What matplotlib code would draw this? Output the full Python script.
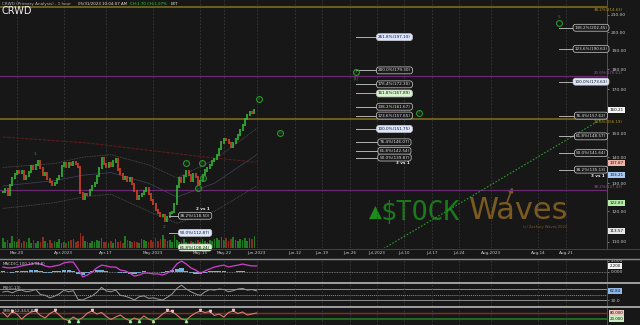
import matplotlib
matplotlib.use("Agg")
import matplotlib.pyplot as plt
import matplotlib.transforms as mtransforms
from matplotlib.lines import Line2D

# ---------------- data ----------------
# half-day closes (from day -3 to day 50.5, day 0 = Mar-20, trading-day index)
closes = [126.8, 128.0, 125.8, 129.5, 131.8, 133.5, 134.6, 133.8, 134.5, 131.6,
          132.8, 134.2, 136.4, 135.5, 136.9, 138.6, 135.6, 133.0, 133.8, 131.6,
          130.4, 129.2, 130.2, 131.5, 132.6, 136.5, 137.6, 136.2, 137.7, 136.8,
          138.2, 137.4, 136.2, 126.5, 124.3, 126.2, 125.6, 127.4, 129.0, 130.2,
          132.6, 135.8, 139.6, 137.2, 136.0, 137.8, 136.4, 138.3, 139.4, 135.2,
          133.4, 131.6, 132.4, 130.8, 131.8, 129.6, 127.0, 124.3, 125.4, 126.2,
          127.2, 128.4, 126.1, 124.0, 122.5, 120.6, 119.4, 118.6, 118.9, 116.8,
          118.2, 119.3, 119.9, 122.6, 128.8, 131.8, 130.4, 132.6, 134.6, 133.2,
          131.0, 133.4, 132.4, 129.6, 130.8, 133.2, 134.8, 135.9, 137.1, 138.4,
          139.2, 140.8, 143.5, 146.0, 147.6, 147.2, 145.8, 144.2, 145.9, 147.6,
          149.0, 151.2, 153.6, 156.2, 158.0, 159.4, 159.0, 160.2]
volume = [2.1, 1.4, 1.8, 1.2, 2.6, 1.5, 1.3, 1.9, 1.1, 1.6,
          1.4, 2.2, 1.2, 1.7, 1.0, 1.5, 1.3, 2.4, 1.6, 1.2,
          1.8, 1.1, 1.5, 1.3, 1.9, 1.2, 1.4, 1.0, 1.6, 1.8,
          2.0, 1.3, 1.5, 3.4, 2.7, 1.6, 1.4, 1.2, 1.5, 1.3,
          1.8, 1.6, 2.2, 1.4, 1.3, 1.1, 1.6, 1.2, 1.9, 1.3,
          1.5, 1.2, 2.6, 1.8, 1.5, 1.3, 1.6, 1.4, 1.2, 1.9,
          1.7, 1.5, 1.4, 1.8, 1.3, 2.3, 1.6, 1.9, 2.8, 2.0,
          1.6, 1.8, 1.4, 2.9, 1.7, 1.3, 1.5, 1.9, 1.4, 1.2,
          1.6, 1.3, 1.5, 1.7, 1.4, 2.0, 1.6, 1.3, 1.8, 1.5,
          1.9, 2.2, 1.7, 2.5, 1.8, 2.1, 1.6, 1.9, 2.4, 1.7,
          1.5, 2.0, 1.8, 2.3, 1.6, 2.1, 1.9, 2.6]
bar_first_day = -3.0
bar_step_days = 0.5

# daily indicator values (day -3 .. day 51)
macd = [1.8, 1.5, 1.5, 1.8, 2.2, 2.5, 2.9, 3.3, 2.9, 2.2,
        1.8, 2.2, 2.5, 3.3, 3.6, 3.6, 1.1, -1.8, -1.1, 0.0,
        1.5, 2.5, 2.2, 1.8, 1.8, 0.7, 0.4, -0.4, -1.5, -1.1,
        -0.4, -0.4, -0.7, -0.7, -1.1, -0.4, 0.7, 2.9, 4.0, 2.9,
        1.5, 0.7, -0.4, 0.4, 1.1, 1.8, 2.2, 2.5, 1.8, 2.2,
        2.5, 2.9, 2.5, 2.2, 2.2]
macd_hist = [0.3, 0.1, -0.2, 0.2, 0.4, 0.5, 0.6, 0.7, 0.3, -0.2,
             -0.3, 0.2, 0.4, 0.6, 0.7, 0.5, -0.8, -1.2, -0.4, 0.3,
             0.6, 0.8, 0.3, -0.1, 0.0, -0.4, -0.5, -0.6, -0.7, -0.2,
             0.2, 0.1, -0.1, -0.1, -0.3, 0.2, 0.6, 1.2, 1.3, 0.4,
             -0.4, -0.6, -0.8, -0.2, 0.2, 0.4, 0.4, 0.4, -0.1, 0.1,
             0.3, 0.4, 0.1, 0.0, 0.0]
rsi = [59, 62, 56, 64, 66, 60, 63, 68, 50, 47,
       38, 44, 52, 66, 60, 64, 32, 30, 38, 45,
       58, 76, 63, 60, 66, 47, 44, 38, 30, 42,
       45, 36, 38, 33, 30, 40, 52, 72, 84, 70,
       60, 52, 47, 60, 68, 66, 70, 68, 60, 64,
       70, 72, 66, 68, 62.84]
stoch = [85, 40, 95, 70, 20, 60, 90, 100, 55, 30,
         75, 100, 60, 20, 5, 40, 10, 35, 80, 100,
         70, 85, 45, 15, 40, 60, 25, 5, 30, 10,
         50, 20, 5, 30, 70, 100, 95, 60, 20, 10,
         50, 80, 100, 85, 95, 55, 70, 40, 85, 100,
         75, 90, 60, 70, 80]
ind_first_day = -3

ma_days = [-3, 15, 28, 32, 40, 51]
ma_long = [148.3, 145.8, 142.8, 141.9, 140.1, 138.0]
band_days = [-3, 8, 14, 20, 28, 34, 42, 51]
band_upper = [136.0, 137.5, 140.0, 141.0, 137.0, 132.0, 139.0, 152.0]
band_mid = [129.0, 131.0, 133.0, 134.0, 130.0, 125.0, 130.0, 141.0]
band_lower = [121.0, 123.0, 125.0, 126.0, 120.0, 116.0, 120.0, 129.0]

tick_days = [0, 10, 19, 29, 39, 44, 51, 59.1, 64.9, 70.8, 76.6, 82.4, 88.2,
             94.0, 100.8, 110.9, 116.8]
tick_labels = ['Mar-20', 'Apr-2023', 'Apr-17', 'May-2023', 'May-15', 'May-22',
               'Jun-2023', 'Jun-12', 'Jun-19', 'Jun-26', 'Jul-2023', 'Jul-10',
               'Jul-17', 'Jul-24', 'Aug-2023', 'Aug-14', 'Aug-21']
price_ticks = [110, 120, 130, 140, 150, 160, 170, 180, 190, 200, 210]

mid_fib_labels = ['261.8%', '200.0%', '176.4%', '161.8%', '138.2%', '123.6%',
                  '100.0%', '76.4%', '61.8%', '50.0%']
mid_fib_prices = [197.10, 179.30, 172.30, 167.89, 161.67, 157.65, 151.75,
                  146.07, 142.54, 139.87]
right_fib_labels = ['138.2%', '123.6%', '100.0%', '76.4%', '61.8%', '50.0%', '38.2%']
right_fib_prices = [202.45, 190.63, 173.63, 157.62, 148.57, 141.64, 135.13]
left_fib_labels = ['38.2%', '50.0%', '61.8%']
left_fib_prices = [118.50, 112.87, 108.24]

level_prices = [214.63, 176.61, 156.19, 127.43]
level_labels = ['38.2%(214.63)', '23.6%(176.61)', '23.6%(156.19)', '38.2%(127.43)']

tag_prices = [160.21, 137.87, 133.21, 122.83, 113.57]
tag_colors = ['#f4f4f4', '#f0b4aa', '#a9c9f2', '#b5eea6', '#e6e6e6']

wave_days = [72.1, 85.5, 115.3, 51.5, 56.0, 36.0, 39.4, 39.6, 38.5]
wave_prices = [178.5, 158.8, 205.4, 165.3, 150.0, 137.7, 137.7, 132.0, 128.3]
wave_texts = ['3', '4', '', 'iii', 'iv', 'i', 'iii', 'iv', 'ii']

trend_days = [76.8, 125.5]
trend_prices = [106.9, 157.5]

# ---------------- style ----------------
BG = '#171717'
GRID = '#3a3a3a'
TXT = '#c8c8c8'
GREEN = '#33c23a'
RED = '#e0452f'
WGREEN = '#2a9a2a'
GOLD = '#7c6a1f'
PURP = '#6a2a70'
W, H = 640, 325

fig = plt.figure(figsize=(6.4, 3.25), dpi=100, facecolor=BG)


def rect(top, bottom, right=607):
    return [0, 1 - bottom / H, right / W, (bottom - top) / H]


ax = fig.add_axes(rect(0, 248))
axv = ax.twinx()
ax_macd = fig.add_axes(rect(260, 282))
ax_rsi = fig.add_axes(rect(284, 306))
ax_st = fig.add_axes(rect(308, 325))

XMIN, XMAX = -3.6, 125.5
for a in (ax, ax_macd, ax_rsi, ax_st):
    a.set_facecolor(BG)
    a.set_xlim(XMIN, XMAX)
    for s in ('top', 'left', 'bottom'):
        a.spines[s].set_visible(False)
    a.spines['right'].set_color('#5a5a5a')
    a.spines['right'].set_linewidth(0.6)
    a.set_xticks(tick_days)
    a.grid(axis='x', color=GRID, lw=0.6, ls=(0, (2, 2)))
    a.yaxis.tick_right()
    a.yaxis.set_label_position('right')
    a.tick_params(axis='y', colors=TXT, labelsize=3.2, length=1.5, width=0.4, pad=1.5)
    a.tick_params(axis='x', length=0)

# volume axis behind the price axis
axv.set_ylim(0, max(volume) * 16)
axv.set_xlim(XMIN, XMAX)
axv.axis('off')
ax.set_zorder(axv.get_zorder() + 1)
ax.patch.set_visible(False)

# ---------------- main price panel ----------------
ax.set_yscale('log')
ax.set_ylim(108.1, 219.1)
ax.set_yticks(price_ticks)
ax.set_yticklabels(['' if p == 160 else f'{p:.2f}' for p in price_ticks])
ax.yaxis.set_minor_locator(matplotlib.ticker.NullLocator())
ax.set_xticklabels(tick_labels, color=TXT, fontsize=3.0)
ax.tick_params(axis='x', pad=2.5)

bar_x = [bar_first_day + i * bar_step_days for i in range(len(closes))]
for i, (x, c) in enumerate(zip(bar_x, closes)):
    o = closes[i - 1] if i > 0 else c
    col = GREEN if c >= o else RED
    lo, hi = min(o, c), max(o, c)
    ax.vlines(x, lo * 0.997, hi * 1.003, color=col, lw=1.1, zorder=4)
for i, (x, v) in enumerate(zip(bar_x, volume)):
    o = closes[i - 1] if i > 0 else closes[i]
    col = '#1f7a1f' if closes[i] >= o else '#8c2a1c'
    axv.bar(x, v, width=0.35, color=col, zorder=1)

# moving average / bands
ax.plot(ma_days, ma_long, color='#5a1c1c', lw=0.8, ls=(0, (3, 1)), zorder=2)
ax.plot(band_days, band_upper, color='#555555', lw=0.6, ls=(0, (1, 1)), zorder=2)
ax.plot(band_days, band_mid, color='#3c3c55', lw=0.6, zorder=2)
ax.plot(band_days, band_lower, color='#555555', lw=0.6, ls=(0, (1, 1)), zorder=2)

# level lines
level_cols = [GOLD, PURP, GOLD, PURP]
level_tcols = ['#b8962e', '#a050a8', '#b8962e', '#a050a8']
level_va = ['top', 'bottom', 'top', 'bottom']
for p, lab, c, tc, va in zip(level_prices, level_labels, level_cols, level_tcols, level_va):
    ax.axhline(p, color=c, lw=1.2 if c == GOLD else 0.9, zorder=3)
    ax.text(122.6, p * (0.998 if va == 'top' else 1.003), lab, color=tc, fontsize=2.8,
            ha='left', va=va, clip_on=False, zorder=6)

# trend line
ax.plot(trend_days, trend_prices, color='#2a9a2a', lw=0.8, ls=(0, (1.5, 1.5)), zorder=3)


def fib_set(labels, prices, x0, x1, xc, fills):
    for lab, p in zip(labels, prices):
        ax.plot([x0, x1], [p, p], color='#b0b0b0', lw=0.7, zorder=5)
        fc = fills.get(lab, '#1a1a1a')
        tc = '#101010' if lab in fills else '#e0e0e0'
        ax.text(xc, p, f'{lab}({p:.2f})', fontsize=3.0, color=tc, ha='center',
                va='center', zorder=7,
                bbox=dict(boxstyle='round,pad=0.35,rounding_size=0.6', fc=fc,
                          ec='#cfcfcf', lw=0.5))


fib_set(mid_fib_labels, mid_fib_prices, 72.1, 76.6, 80.3,
        {'261.8%': '#dde4ff', '161.8%': '#d6f5cc', '100.0%': '#dde8ff'})
fib_set(right_fib_labels, right_fib_prices, 115.3, 118.9, 122.1,
        {'100.0%': '#dde8ff'})
fib_set(left_fib_labels, left_fib_prices, 32.4, 34.6, 37.9,
        {'50.0%': '#dde8ff', '61.8%': '#d6f5cc'})

ax.text(82.0, 137.7, '3 vs 1', fontsize=3.0, color='#f0f0f0', ha='center',
        va='center', fontweight='bold', zorder=6)
ax.text(123.6, 132.7, '3 vs 1', fontsize=3.0, color='#f0f0f0', ha='center',
        va='center', fontweight='bold', zorder=6, clip_on=False)
ax.text(39.6, 120.8, '2 vs 1', fontsize=3.0, color='#f0f0f0', ha='center',
        va='center', fontweight='bold', zorder=6)

# wave labels
for d, p, t in zip(wave_days, wave_prices, wave_texts):
    ax.plot(d, p, marker='o', ms=4.2, mfc='none', mec=WGREEN, mew=0.8, zorder=7)
    if t:
        ax.text(d, p, t, fontsize=2.3, color=WGREEN, ha='center', va='center', zorder=7)
ax.text(72.1, 176.2, '[3]', fontsize=2.4, color=WGREEN, ha='center', va='top', zorder=7)
ax.text(115.3, 209.0, '5', fontsize=3.0, color=WGREEN, ha='center', va='center', zorder=7)
ax.text(3.8, 141.2, '1', fontsize=3.2, color=WGREEN, ha='center', va='center', zorder=7)
ax.text(31.3, 114.8, '2', fontsize=3.2, color=WGREEN, ha='center', va='center', zorder=7)

# watermark
ax.text(0.608, 0.142, '\u25b2', transform=ax.transAxes, fontsize=12, color='#1e8c1e',
        ha='left', va='center', zorder=1)
ax.text(0.627, 0.142, '$TOCK', transform=ax.transAxes, fontsize=19,
        family='DejaVu Sans Mono', color='#1a7a1a',
        ha='left', va='center', zorder=1)
ax.text(0.772, 0.115, 'Waves', transform=ax.transAxes, fontsize=22, color='#7b5a22',
        ha='left', va='baseline', zorder=1)
ax.annotate('', xy=(0.846, 0.255), xytext=(0.834, 0.175), xycoords='axes fraction',
            arrowprops=dict(arrowstyle='-|>', color='#7b5a22', lw=1.2,
                            mutation_scale=6), zorder=1)
ax.text(0.898, 0.085, '(c) Zachary Waves 2023', transform=ax.transAxes, fontsize=2.6,
        color='#7b5a22', ha='center', va='center', zorder=1)

# right price tags
ytrans = mtransforms.blended_transform_factory(ax.transAxes, ax.transData)
for p, c in zip(tag_prices, tag_colors):
    ax.text(1.004, p, f'{p:.2f}', transform=ytrans, fontsize=3.0, color='#101010',
            ha='left', va='center', clip_on=False, zorder=8,
            bbox=dict(boxstyle='square,pad=0.25', fc=c, ec='none'))

# ---------------- MACD ----------------
ind_x = [ind_first_day + i for i in range(len(macd))]
ax_macd.set_ylim(-3.64, 4.36)
ax_macd.bar(ind_x, macd_hist, width=0.9, color='#6fb2e0', zorder=2)
ax_macd.plot(ind_x, macd, color='#d040d0', lw=0.9, zorder=3)
ax_macd.axhline(0, color='#8a8a8a', lw=0.6, ls=(0, (1, 1)))
ax_macd.set_yticks([4, 0])
ax_macd.set_yticklabels(['4.000', '0.000'])
ax_macd.set_xticklabels([])
ax_macd.text(0.005, 0.9, 'MACD(C,100,13,34,8)', transform=ax_macd.transAxes,
             fontsize=2.9, color=TXT, ha='left', va='top')
ax_macd.text(1.004, macd[-1], f'{macd[-1]:.3f}',
             transform=mtransforms.blended_transform_factory(ax_macd.transAxes, ax_macd.transData),
             fontsize=2.8, color='#101010', ha='left', va='center', clip_on=False,
             bbox=dict(boxstyle='square,pad=0.25', fc='#f0f0f0', ec='none'))

# ---------------- RSI ----------------
ax_rsi.set_ylim(8.2, 88.2)
for lvl, ls in ((70, '-'), (50, (0, (1, 1))), (30, '-')):
    ax_rsi.axhline(lvl, color='#8c8c8c', lw=0.7, ls=ls, zorder=1)
ax_rsi.plot(ind_x, rsi, color='#9a9a9a', lw=0.7, zorder=3)
ax_rsi.set_yticks([30])
ax_rsi.set_yticklabels(['30.0'])
ax_rsi.set_xticklabels([])
ax_rsi.text(0.005, 0.92, 'RSI(C,13)', transform=ax_rsi.transAxes,
            fontsize=2.9, color=TXT, ha='left', va='top')
ax_rsi.text(1.004, rsi[-1], f'{rsi[-1]:.2f}',
            transform=mtransforms.blended_transform_factory(ax_rsi.transAxes, ax_rsi.transData),
            fontsize=2.8, color='#101010', ha='left', va='center', clip_on=False,
            bbox=dict(boxstyle='square,pad=0.25', fc='#8fb8ea', ec='none'))

# ---------------- Stochastic ----------------
ax_st.set_ylim(-40, 130)
ax_st.axhline(80, color='#8a2a24', lw=1.0, zorder=1)
ax_st.axhline(20, color='#1f7a1f', lw=1.2, zorder=1)
ax_st.plot(ind_x, stoch, color='#e07a6a', lw=0.8, zorder=3)
for x, v in zip(ind_x, stoch):
    if v >= 95:
        ax_st.plot(x, v + 6, marker='v', ms=1.6, color='#f0c0c0', zorder=4)
    elif v <= 10:
        ax_st.plot(x, v - 6, marker='^', ms=1.6, color='#9af09a', zorder=4)
ax_st.set_yticks([])
ax_st.set_xticklabels([])
ax_st.text(0.005, 0.95, 'SMI(C,12,34,5,BB)', transform=ax_st.transAxes,
           fontsize=2.9, color=TXT, ha='left', va='top')
st_trans = mtransforms.blended_transform_factory(ax_st.transAxes, ax_st.transData)
ax_st.text(1.004, 80, '80.000', transform=st_trans, fontsize=2.8, color='#101010',
           ha='left', va='center', clip_on=False,
           bbox=dict(boxstyle='square,pad=0.2', fc='#f0c8c0', ec='none'))
ax_st.text(1.004, 20, '20.000', transform=st_trans, fontsize=2.8, color='#101010',
           ha='left', va='center', clip_on=False,
           bbox=dict(boxstyle='square,pad=0.2', fc='#c8f0c0', ec='none'))

# separators
for yy, c, lw in ((249, '#4a4a4a', 0.6), (258.5, '#8a8a8a', 1.0),
                  (283, '#a0a0a0', 1.4), (307, '#a0a0a0', 1.4)):
    fig.add_artist(Line2D([0, 1], [1 - yy / H, 1 - yy / H], color=c, lw=lw))

# header texts
fig.text(2 / W, 1 - 4 / H, 'CRWD (Primary Analysis) - 1 hour', fontsize=3.0,
         color='#b0b0b0', ha='left', va='center')
fig.text(78 / W, 1 - 4 / H, '05/31/2023 10:04:07 AM', fontsize=2.9,
         color='#e0e0e0', ha='left', va='center')
fig.text(130 / W, 1 - 4 / H, 'CH:1.70 CH:1.07%', fontsize=2.9,
         color='#3ad43a', ha='left', va='center')
fig.text(171 / W, 1 - 4 / H, 'EXT', fontsize=2.9, color='#e0e0e0',
         ha='left', va='center')
fig.text(2 / W, 1 - 10.5 / H, 'CRWD', fontsize=7, color='#f0f0f0',
         ha='left', va='center')

fig.savefig('out.png', dpi=100, facecolor=BG)
